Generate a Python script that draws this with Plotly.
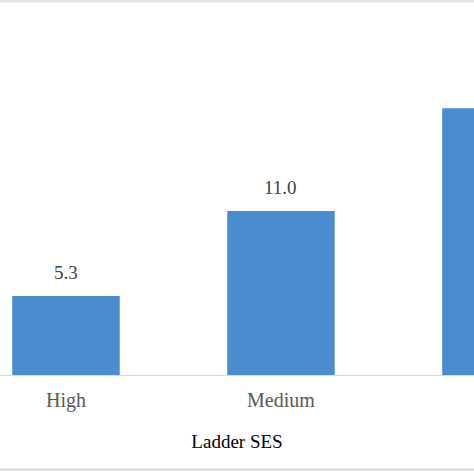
import plotly.graph_objects as go

# Ladder SES groups and their values
categories = ['High', 'Medium', 'Low']
values = [5.3, 11.0, 17.9]
value_labels = ['5.3', '11.0', '17.9']

fig = go.Figure()

# Bars
fig.add_trace(go.Bar(
    x=categories, y=values,
    width=0.5,
    marker=dict(color='#4b8cd0', line=dict(width=0)),
    hoverinfo='skip',
    showlegend=False))

# Value labels above each bar
for cat, val, lab in zip(categories, values, value_labels):
    fig.add_annotation(
        x=cat, y=val, text=lab, showarrow=False,
        yshift=24, font=dict(family='Liberation Serif', size=19, color='#404040'))

# Top and bottom frame lines of the original picture
fig.add_shape(type='line', xref='paper', yref='paper', x0=0, x1=1, y0=0.997, y1=0.997,
              line=dict(color='#dcdcdc', width=2))
fig.add_shape(type='line', xref='paper', yref='paper', x0=0, x1=1, y0=-0.252, y1=-0.252,
              line=dict(color='#d6d6d6', width=2))

fig.update_layout(
    width=474, height=474,
    margin=dict(l=0, r=0, t=0, b=99),
    plot_bgcolor='white', paper_bgcolor='white',
    font=dict(family='Liberation Serif'),
    bargap=0.5
)

fig.update_xaxes(
    type='category', range=[-0.307, 1.898],
    showline=True, linecolor='#d9d9d9', linewidth=1,
    ticks='', showgrid=False, ticklabelstandoff=7,
    tickfont=dict(size=20, color='#595959'),
    title=dict(text='Ladder SES', font=dict(size=19, color='black'), standoff=23))

fig.update_yaxes(
    range=[0, 25.17], visible=False, showgrid=False, zeroline=False)

# drop the page's default body margin so the figure sits at the window corner
fig.write_html("out.html", config={'displayModeBar': False},
               post_script="document.body.style.margin='0';")
